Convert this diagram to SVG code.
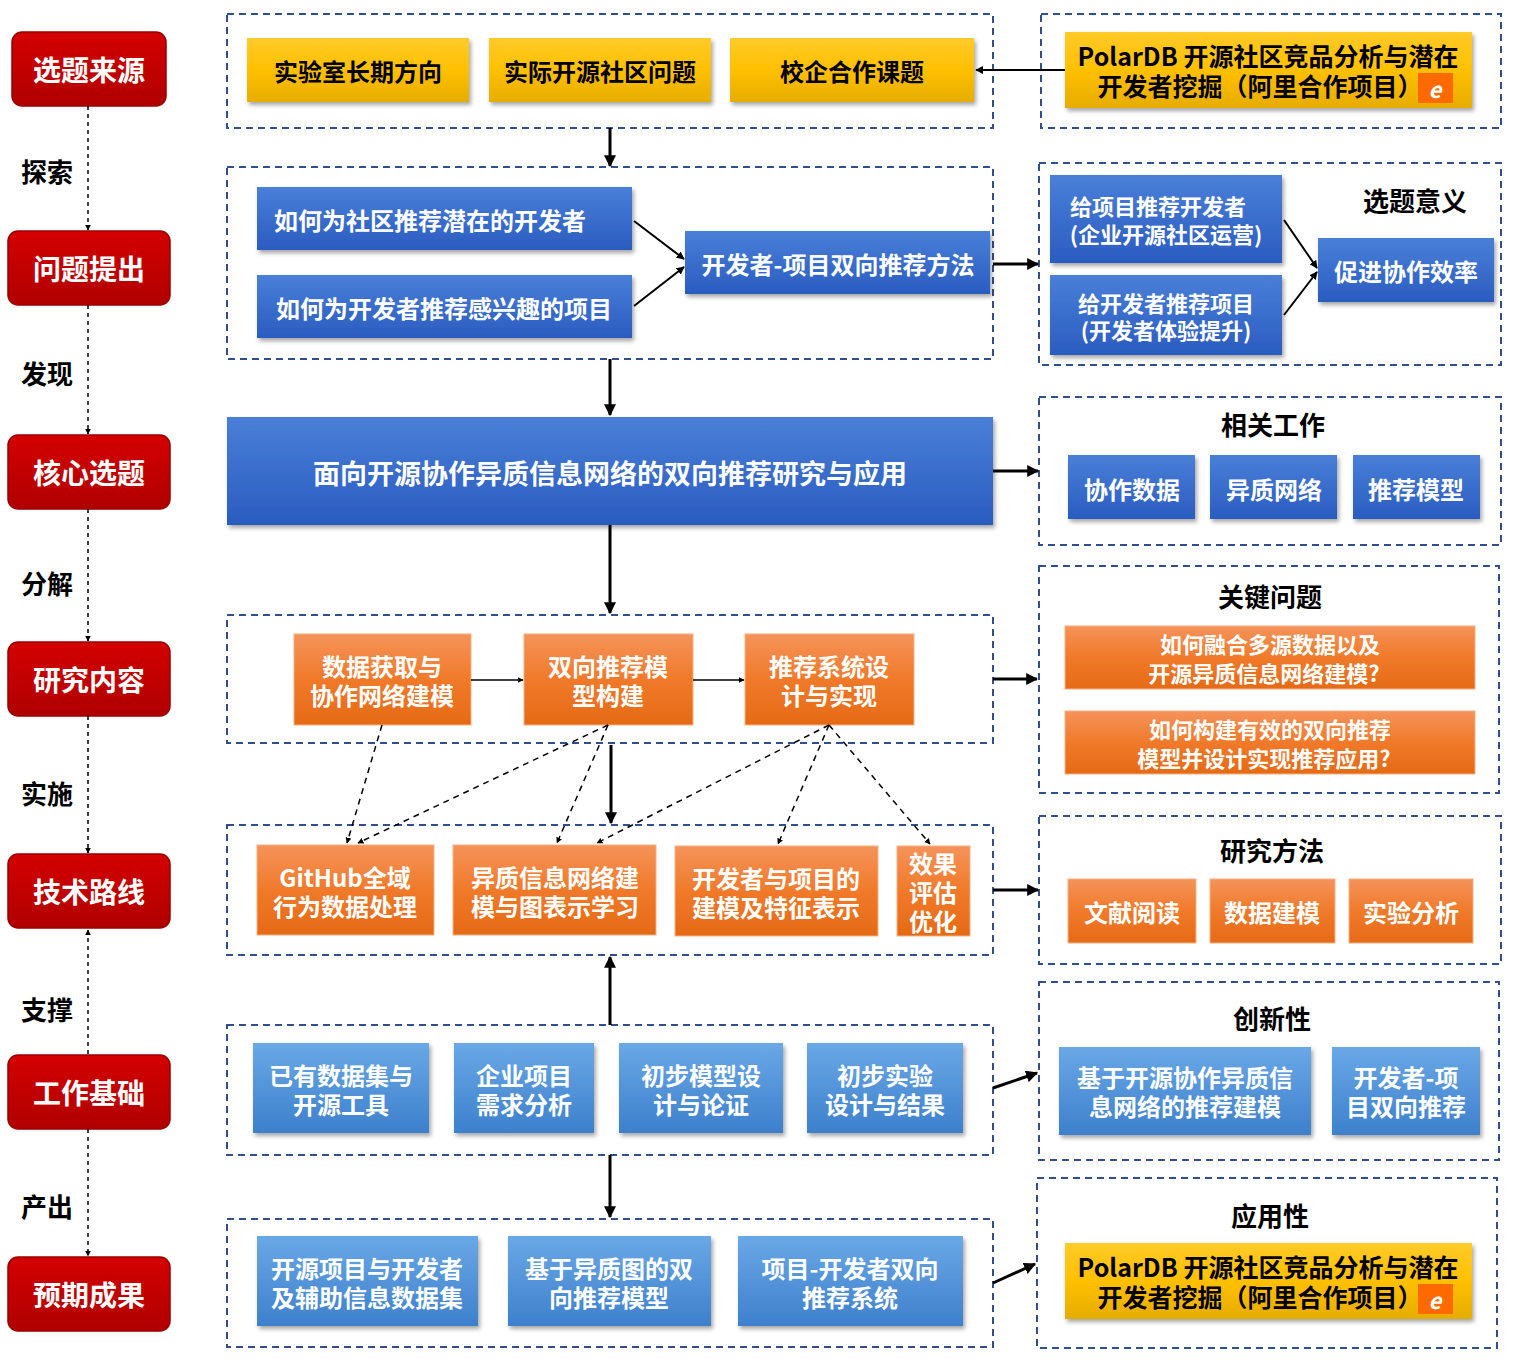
<svg xmlns="http://www.w3.org/2000/svg" width="1514" height="1362" viewBox="0 0 1514 1362">
<defs>
<linearGradient id="gr" x1="0" y1="0" x2="0" y2="1"><stop offset="0" stop-color="#d40000"/><stop offset="1" stop-color="#b00000"/></linearGradient>
<linearGradient id="gy" x1="0" y1="0" x2="0" y2="1"><stop offset="0" stop-color="#ffca2a"/><stop offset="0.5" stop-color="#ffc000"/><stop offset="1" stop-color="#e6ad00"/></linearGradient>
<linearGradient id="gb" x1="0" y1="0" x2="0" y2="1"><stop offset="0" stop-color="#4a7fd8"/><stop offset="1" stop-color="#2a5cc0"/></linearGradient>
<linearGradient id="gl" x1="0" y1="0" x2="0" y2="1"><stop offset="0" stop-color="#6aa8e6"/><stop offset="1" stop-color="#3d80cc"/></linearGradient>
<linearGradient id="go" x1="0" y1="0" x2="0" y2="1"><stop offset="0" stop-color="#f5935a"/><stop offset="0.5" stop-color="#f07a2a"/><stop offset="1" stop-color="#e56a15"/></linearGradient>
<filter id="sh" x="-10%" y="-10%" width="125%" height="140%"><feDropShadow dx="2" dy="3" stdDeviation="2" flood-color="#000" flood-opacity="0.35"/></filter>
<marker id="ah2" viewBox="0 0 10 10" refX="9" refY="5" markerWidth="4" markerHeight="4" orient="auto"><path d="M0,0L10,5L0,10z" fill="#000"/></marker>
</defs>
<style>
text{font-family:"Noto Sans CJK SC","Liberation Sans",sans-serif;font-weight:bold;text-anchor:middle;dominant-baseline:central}
.w{fill:#fff;font-size:24px}.k{fill:#000;font-size:24px}.lab{fill:#000;font-size:26px}
.w22{fill:#fff;font-size:22px}.k25{fill:#000;font-size:25px}.red{fill:#fff;font-size:28px}.core{fill:#fff;font-size:27px}
.c{fill:none;stroke:#2f4f8f;stroke-width:2;stroke-dasharray:7,5}
.r{fill:url(#gr);stroke:#900;stroke-width:1.5}
.y{fill:url(#gy);filter:url(#sh)}.b{fill:url(#gb);filter:url(#sh)}.l{fill:url(#gl);filter:url(#sh)}.o{fill:url(#go);stroke:#f4b183;stroke-width:1}
.t{fill:#000;font-size:26px}
</style>
<g id="containers">
<rect class="c" x="227" y="14" width="766" height="114"/><rect class="c" x="227" y="167" width="766" height="192"/>
<rect class="c" x="227" y="615" width="766" height="128"/><rect class="c" x="227" y="825" width="766" height="130"/>
<rect class="c" x="227" y="1025" width="766" height="130"/><rect class="c" x="227" y="1219" width="766" height="128"/>
<rect class="c" x="1041" y="14" width="460" height="114"/><rect class="c" x="1039" y="163" width="462" height="202"/>
<rect class="c" x="1039" y="397" width="462" height="148"/><rect class="c" x="1039" y="566" width="460" height="227"/>
<rect class="c" x="1039" y="816" width="462" height="148"/><rect class="c" x="1039" y="982" width="460" height="178"/>
<rect class="c" x="1037" y="1178" width="460" height="170"/>
</g>
<g id="left">
<g id="n-l1"><rect class="r" x="12" y="32" width="154" height="74" rx="10"/><text class="red" x="89" y="69">选题来源</text></g>
<g id="n-l2"><rect class="r" x="8" y="231" width="162" height="74" rx="10"/><text class="red" x="89" y="268">问题提出</text></g>
<g id="n-l3"><rect class="r" x="8" y="435" width="162" height="74" rx="10"/><text class="red" x="89" y="472">核心选题</text></g>
<g id="n-l4"><rect class="r" x="8" y="642" width="162" height="74" rx="10"/><text class="red" x="89" y="679">研究内容</text></g>
<g id="n-l5"><rect class="r" x="8" y="854" width="162" height="74" rx="10"/><text class="red" x="89" y="891">技术路线</text></g>
<g id="n-l6"><rect class="r" x="8" y="1055" width="162" height="74" rx="10"/><text class="red" x="89" y="1092">工作基础</text></g>
<g id="n-l7"><rect class="r" x="8" y="1257" width="162" height="74" rx="10"/><text class="red" x="89" y="1294">预期成果</text></g>
<text class="lab" x="47" y="170">探索</text><text class="lab" x="47" y="372">发现</text><text class="lab" x="47" y="582">分解</text>
<text class="lab" x="47" y="792">实施</text><text class="lab" x="47" y="1008">支撑</text><text class="lab" x="47" y="1205">产出</text>
</g>
<g id="n-top">
<rect class="y" x="247" y="38" width="222" height="64"/><text class="k" x="358" y="70">实验室长期方向</text>
<rect class="y" x="489" y="38" width="222" height="64"/><text class="k" x="600" y="70">实际开源社区问题</text>
<rect class="y" x="730" y="38" width="244" height="64"/><text class="k" x="852" y="70">校企合作课题</text>
<rect class="y" x="1065" y="32" width="407" height="76"/><text class="k25" x="1268" y="55">PolarDB 开源社区竞品分析与潜在</text><text class="k25" x="1260" y="85">开发者挖掘（阿里合作项目）</text>
<rect x="1418" y="73" width="35" height="30" fill="#ff6a00"/><text x="1435" y="88" fill="#fff" font-size="22" font-style="italic">e</text>
</g>
<g id="n-q">
<rect class="b" x="257" y="187" width="375" height="63"/><text class="w" x="430" y="219">如何为社区推荐潜在的开发者</text>
<rect class="b" x="257" y="275" width="375" height="63"/><text class="w" x="444" y="307">如何为开发者推荐感兴趣的项目</text>
<rect class="b" x="685" y="231" width="305" height="63"/><text class="w" x="838" y="263">开发者-项目双向推荐方法</text>
<rect class="b" x="1050" y="175" width="232" height="88"/><text class="w22" x="1158" y="205">给项目推荐开发者</text><text class="w22" x="1166" y="233">(企业开源社区运营)</text>
<rect class="b" x="1050" y="275" width="232" height="80"/><text class="w22" x="1166" y="302">给开发者推荐项目</text><text class="w22" x="1166" y="329">(开发者体验提升)</text>
<rect class="b" x="1318" y="238" width="176" height="64"/><text class="w" x="1406" y="270">促进协作效率</text>
<text class="t" x="1415" y="199">选题意义</text>
</g>
<g id="n-core">
<rect class="b" x="227" y="417" width="766" height="108"/><text class="core" x="610" y="472">面向开源协作异质信息网络的双向推荐研究与应用</text>
<text class="t" x="1273" y="423">相关工作</text>
<rect class="b" x="1068" y="455" width="127" height="64"/><text class="w" x="1132" y="488">协作数据</text>
<rect class="b" x="1210" y="455" width="127" height="64"/><text class="w" x="1274" y="488">异质网络</text>
<rect class="b" x="1353" y="455" width="127" height="64"/><text class="w" x="1416" y="488">推荐模型</text>
</g>
<g id="n-research">
<rect class="o" x="294" y="634" width="177" height="91"/><text class="w" x="382" y="665">数据获取与</text><text class="w" x="382" y="694">协作网络建模</text>
<rect class="o" x="524" y="634" width="169" height="91"/><text class="w" x="608" y="665">双向推荐模</text><text class="w" x="608" y="694">型构建</text>
<rect class="o" x="745" y="634" width="169" height="91"/><text class="w" x="829" y="665">推荐系统设</text><text class="w" x="829" y="694">计与实现</text>
<text class="t" x="1270" y="595">关键问题</text>
<rect class="o" x="1065" y="626" width="410" height="63"/><text class="w22" x="1270" y="643">如何融合多源数据以及</text><text class="w22" x="1264" y="672">开源异质信息网络建模?</text>
<rect class="o" x="1065" y="711" width="410" height="63"/><text class="w22" x="1270" y="728">如何构建有效的双向推荐</text><text class="w22" x="1264" y="757">模型并设计实现推荐应用?</text>
</g>
<g id="n-tech">
<rect class="o" x="257" y="845" width="177" height="90"/><text class="w" x="345" y="876">GitHub全域</text><text class="w" x="345" y="905">行为数据处理</text>
<rect class="o" x="453" y="845" width="203" height="90"/><text class="w" x="555" y="876">异质信息网络建</text><text class="w" x="555" y="905">模与图表示学习</text>
<rect class="o" x="675" y="846" width="203" height="90"/><text class="w" x="776" y="877">开发者与项目的</text><text class="w" x="776" y="906">建模及特征表示</text>
<rect class="o" x="897" y="846" width="73" height="90"/><text class="w" x="933" y="862">效果</text><text class="w" x="933" y="891">评估</text><text class="w" x="933" y="920">优化</text>
<text class="t" x="1272" y="849">研究方法</text>
<rect class="o" x="1068" y="879" width="128" height="64"/><text class="w" x="1132" y="911">文献阅读</text>
<rect class="o" x="1210" y="879" width="125" height="64"/><text class="w" x="1272" y="911">数据建模</text>
<rect class="o" x="1349" y="879" width="124" height="64"/><text class="w" x="1411" y="911">实验分析</text>
</g>
<g id="n-base">
<rect class="l" x="253" y="1043" width="176" height="90"/><text class="w" x="341" y="1074">已有数据集与</text><text class="w" x="341" y="1103">开源工具</text>
<rect class="l" x="454" y="1043" width="140" height="90"/><text class="w" x="524" y="1074">企业项目</text><text class="w" x="524" y="1103">需求分析</text>
<rect class="l" x="619" y="1043" width="164" height="90"/><text class="w" x="701" y="1074">初步模型设</text><text class="w" x="701" y="1103">计与论证</text>
<rect class="l" x="807" y="1043" width="156" height="90"/><text class="w" x="885" y="1074">初步实验</text><text class="w" x="885" y="1103">设计与结果</text>
<text class="t" x="1272" y="1017">创新性</text>
<rect class="l" x="1059" y="1047" width="252" height="88"/><text class="w" x="1185" y="1076">基于开源协作异质信</text><text class="w" x="1185" y="1105">息网络的推荐建模</text>
<rect class="l" x="1332" y="1047" width="148" height="88"/><text class="w" x="1406" y="1076">开发者-项</text><text class="w" x="1406" y="1105">目双向推荐</text>
</g>
<g id="n-out">
<rect class="l" x="257" y="1236" width="221" height="90"/><text class="w" x="367" y="1267">开源项目与开发者</text><text class="w" x="367" y="1296">及辅助信息数据集</text>
<rect class="l" x="508" y="1236" width="203" height="90"/><text class="w" x="609" y="1267">基于异质图的双</text><text class="w" x="609" y="1296">向推荐模型</text>
<rect class="l" x="738" y="1236" width="225" height="90"/><text class="w" x="850" y="1267">项目-开发者双向</text><text class="w" x="850" y="1296">推荐系统</text>
<text class="t" x="1270" y="1214">应用性</text>
<rect class="y" x="1065" y="1243" width="407" height="76"/><text class="k25" x="1268" y="1266">PolarDB 开源社区竞品分析与潜在</text><text class="k25" x="1260" y="1296">开发者挖掘（阿里合作项目）</text>
<rect x="1418" y="1284" width="35" height="30" fill="#ff6a00"/><text x="1435" y="1299" fill="#fff" font-size="22" font-style="italic">e</text>
</g>
<g id="connectors" stroke="#000" fill="none">
<g stroke-width="1.5" stroke-dasharray="4,4" marker-end="url(#ah2)">
<line x1="88" y1="106" x2="88" y2="230"/><line x1="88" y1="305" x2="88" y2="434"/><line x1="88" y1="509" x2="88" y2="641"/>
<line x1="88" y1="716" x2="88" y2="853"/><line x1="88" y1="1054" x2="88" y2="930"/><line x1="88" y1="1129" x2="88" y2="1256"/>
</g>
<g stroke-width="3" marker-end="url(#ah2)">
<line x1="610" y1="128" x2="610" y2="166"/><line x1="610" y1="359" x2="610" y2="415"/><line x1="610" y1="525" x2="610" y2="613"/>
<line x1="611" y1="745" x2="611" y2="823"/><line x1="610" y1="1025" x2="610" y2="957"/><line x1="610" y1="1155" x2="610" y2="1217"/>
<line x1="993" y1="264" x2="1038" y2="264"/><line x1="993" y1="471" x2="1038" y2="471"/><line x1="993" y1="679" x2="1037" y2="679"/>
<line x1="993" y1="890" x2="1038" y2="890"/><line x1="993" y1="1088" x2="1037" y2="1073"/><line x1="993" y1="1283" x2="1035" y2="1264"/>
</g>
<g stroke-width="2" marker-end="url(#ah2)">
<line x1="1065" y1="70" x2="976" y2="70"/>
<line x1="634" y1="221" x2="684" y2="259"/><line x1="634" y1="306" x2="684" y2="267"/>
<line x1="1284" y1="220" x2="1317" y2="268"/><line x1="1284" y1="315" x2="1317" y2="272"/>
</g>
<g stroke-width="1.5" marker-end="url(#ah2)">
<line x1="471" y1="680" x2="523" y2="680"/><line x1="693" y1="680" x2="744" y2="680"/>
</g>
<g stroke-width="1.5" stroke-dasharray="6,5" marker-end="url(#ah2)">
<line x1="382" y1="725" x2="347" y2="843"/><line x1="608" y1="725" x2="358" y2="843"/>
<line x1="608" y1="725" x2="557" y2="843"/><line x1="829" y1="725" x2="597" y2="843"/>
<line x1="829" y1="725" x2="778" y2="844"/><line x1="829" y1="725" x2="930" y2="844"/>
</g>
</g>
</svg>
